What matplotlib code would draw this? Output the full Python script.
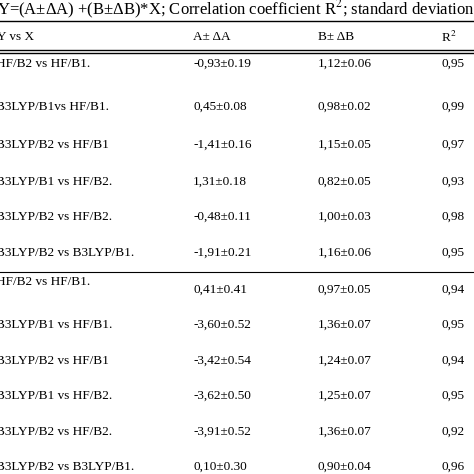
import matplotlib
matplotlib.use("Agg")
import matplotlib.pyplot as plt
from matplotlib.lines import Line2D

title = "Y=(A\u00b1\u0394A) +(B\u00b1\u0394B)*X; Correlation coefficient R$^2$; standard deviation SD"
headers = ["Y vs X", "A\u00b1 \u0394A", "B\u00b1 \u0394B", "R$^2$"]
labels = ["HF/B2 vs HF/B1.", "B3LYP/B1vs HF/B1.", "B3LYP/B2 vs HF/B1", "B3LYP/B1 vs HF/B2.",
          "B3LYP/B2 vs HF/B2.", "B3LYP/B2 vs B3LYP/B1.",
          "HF/B2 vs HF/B1.", "B3LYP/B1 vs HF/B1.", "B3LYP/B2 vs HF/B1", "B3LYP/B1 vs HF/B2.",
          "B3LYP/B2 vs HF/B2.", "B3LYP/B2 vs B3LYP/B1."]
A = ["-0,93\u00b10.19", "0,45\u00b10.08", "-1,41\u00b10.16", "1,31\u00b10.18", "-0,48\u00b10.11", "-1,91\u00b10.21",
     "0,41\u00b10.41", "-3,60\u00b10.52", "-3,42\u00b10.54", "-3,62\u00b10.50", "-3,91\u00b10.52", "0,10\u00b10.30"]
B = ["1,12\u00b10.06", "0,98\u00b10.02", "1,15\u00b10.05", "0,82\u00b10.05", "1,00\u00b10.03", "1,16\u00b10.06",
     "0,97\u00b10.05", "1,36\u00b10.07", "1,24\u00b10.07", "1,25\u00b10.07", "1,36\u00b10.07", "0,90\u00b10.04"]
R2 = ["0,95", "0,99", "0,97", "0,93", "0,98", "0,95", "0,94", "0,95", "0,94", "0,95", "0,92", "0,96"]

label_y = [64, 107, 145, 182, 217, 253, 282, 325, 361, 396, 432, 467]
value_y = [64, 107, 145, 182, 217, 253, 290, 325, 361, 396, 432, 467]

W = H = 474
fig = plt.figure(figsize=(4.74, 4.74), dpi=100)
fig.patch.set_facecolor("white")
plt.rcParams['font.family'] = ['Liberation Serif', 'DejaVu Serif']
plt.rcParams['mathtext.fontset'] = 'stix'

def fx(px): return px / W
def fy(py): return 1 - py / H

fig.text(fx(-3), fy(9), title, fontsize=12, va="center", ha="left")
cols = [-3, 193, 318, 441]
for c, h in zip(cols, headers):
    fig.text(fx(c), fy(37), h, fontsize=9.5, va="center", ha="left")
for i in range(len(labels)):
    fig.text(fx(-4), fy(label_y[i]), labels[i], fontsize=9.5, va="center", ha="left")
    fig.text(fx(193), fy(value_y[i]), A[i], fontsize=9.5, va="center", ha="left")
    fig.text(fx(318), fy(value_y[i]), B[i], fontsize=9.5, va="center", ha="left")
    fig.text(fx(441), fy(value_y[i]), R2[i], fontsize=9.5, va="center", ha="left")

def hline(py, lw=1.0):
    fig.add_artist(Line2D([0, 1], [fy(py), fy(py)], color="black", lw=lw, transform=fig.transFigure))

hline(21, 1.0)
hline(50, 1.0)
hline(53, 1.0)
hline(272, 0.8)

fig.savefig("out.png", dpi=100, facecolor="white")
